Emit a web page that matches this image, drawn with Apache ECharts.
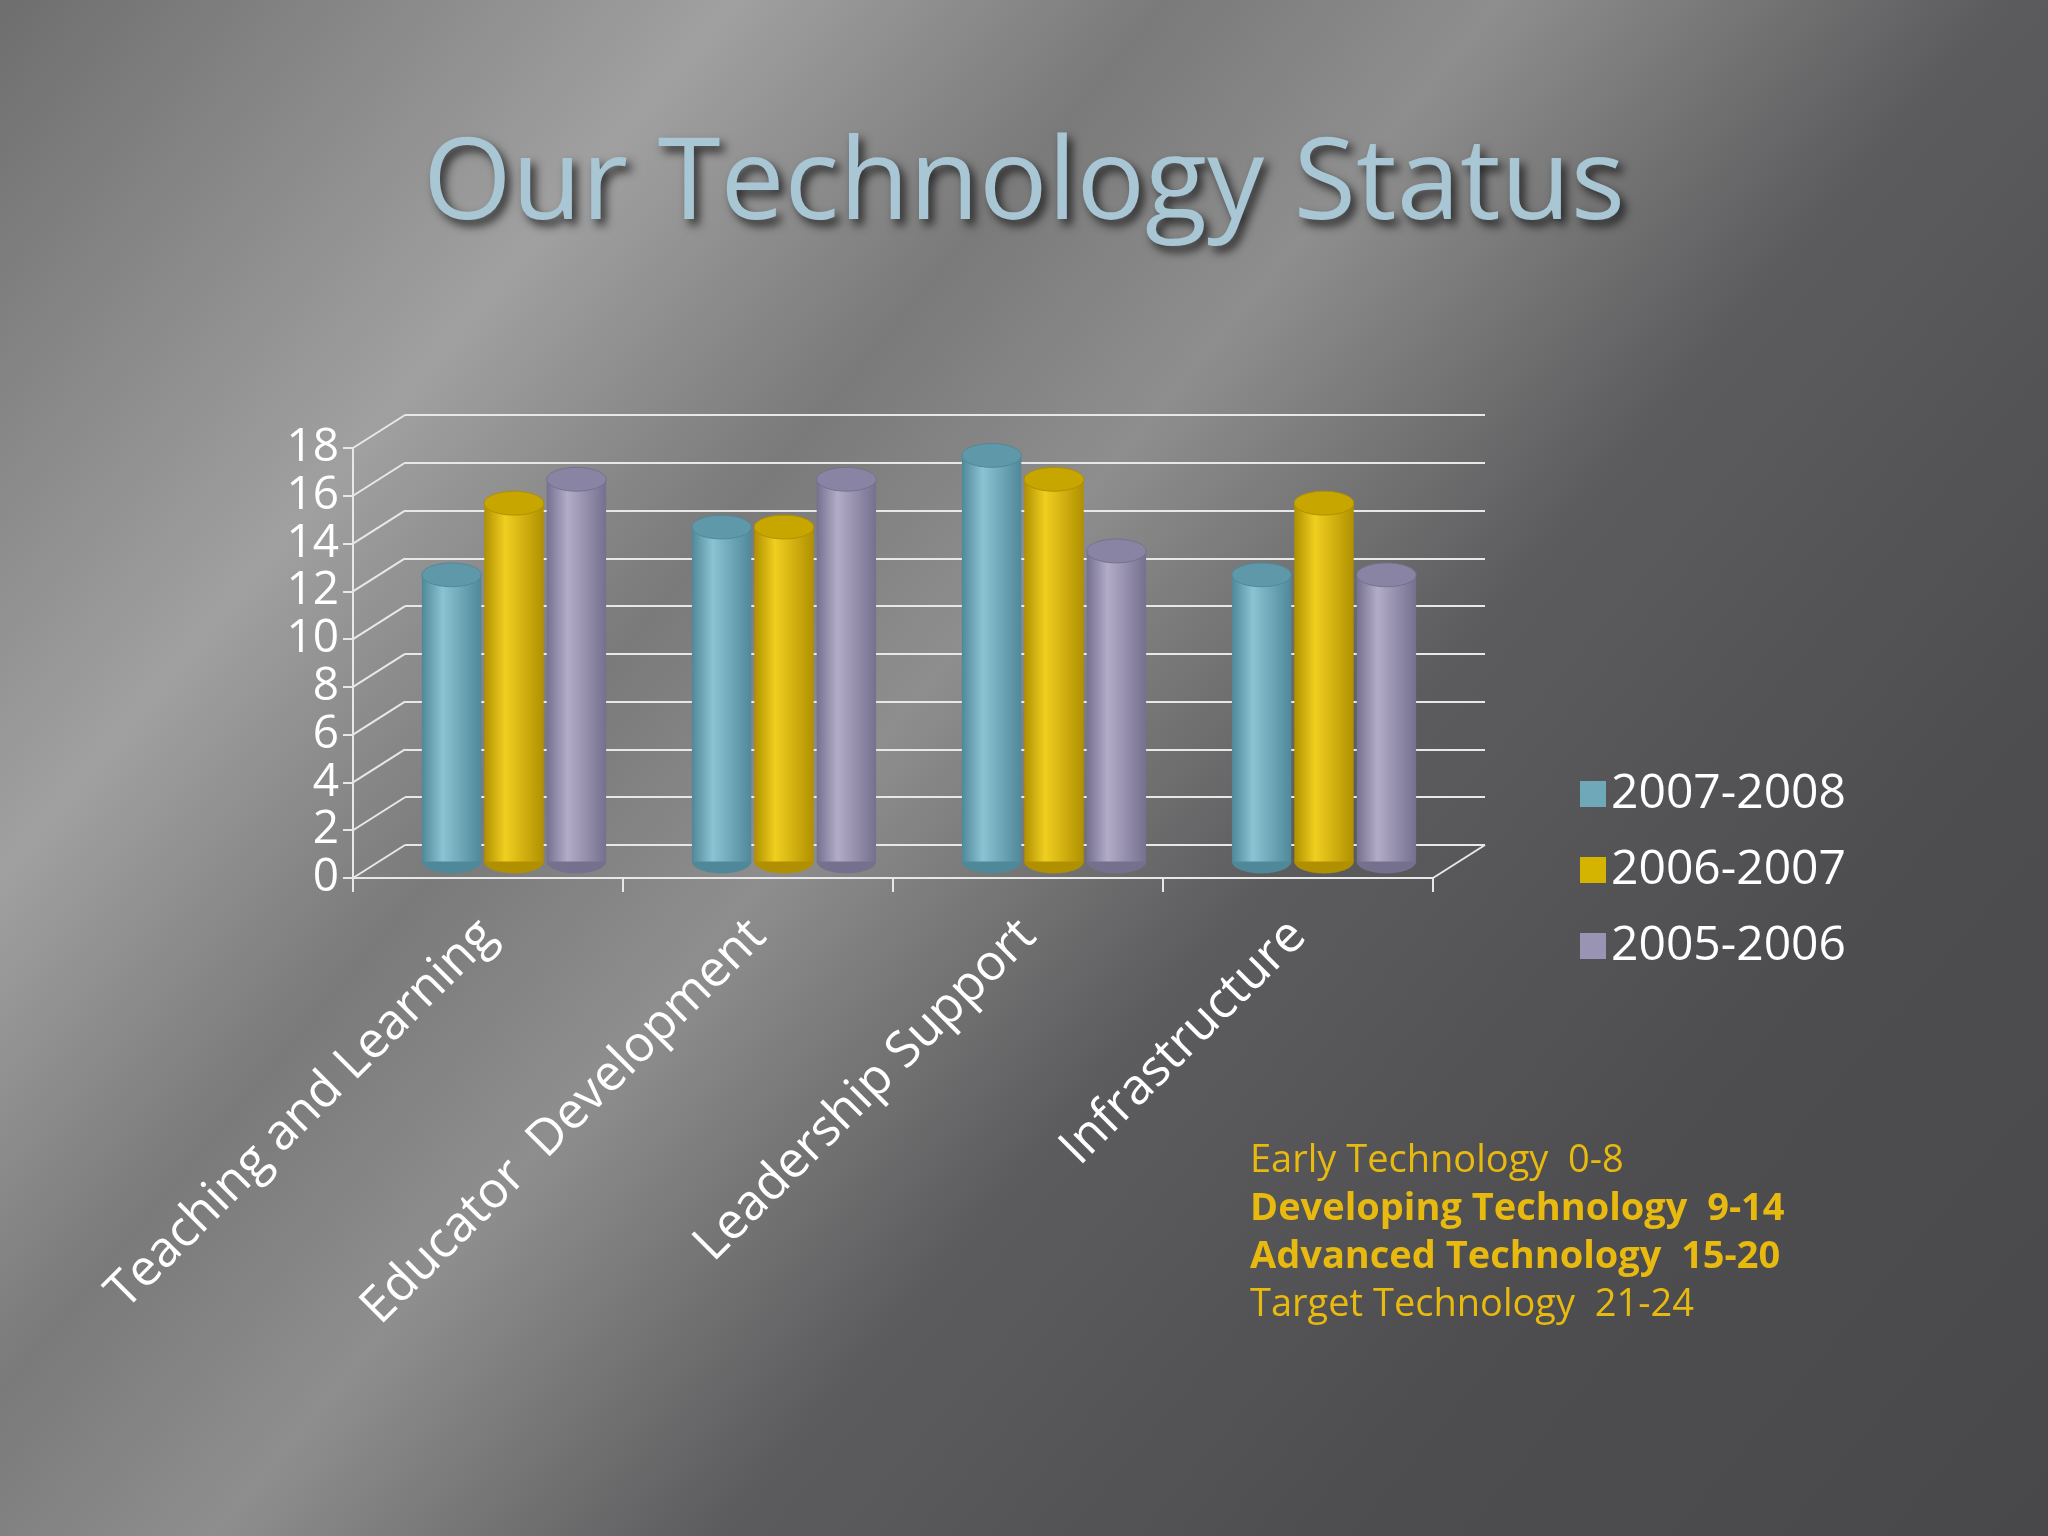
<!DOCTYPE html>
<html><head><meta charset="utf-8">
<script src="https://cdn.jsdelivr.net/npm/echarts@6/dist/echarts.min.js"></script>
<style>
html,body{margin:0;padding:0;}
body{width:2048px;height:1536px;background:linear-gradient(130deg,#6e6e6e 0%,#a0a0a0 22%,#7a7a7a 35%,#8e8e8e 45%,#5c5c5e 60%,#4e4e50 78%,#48484a 100%);}
#main{width:2048px;height:1536px;}
</style></head>
<body><div id="main"></div>
<script>
var chartDom = document.getElementById('main');
var myChart = echarts.init(chartDom, null, { renderer: 'canvas' });

var categories = ['Teaching and Learning', 'Educator  Development', 'Leadership Support', 'Infrastructure'];
var seriesNames = ['2007-2008', '2006-2007', '2005-2006'];
var values2007 = [12, 14, 17, 12];
var values2006 = [15, 14, 16, 15];
var values2005 = [16, 16, 13, 12];
var yTicks = [0, 2, 4, 6, 8, 10, 12, 14, 16, 18];
var notes = ['Early Technology  0-8', 'Developing Technology  9-14', 'Advanced Technology  15-20', 'Target Technology  21-24'];

var colors = [['#4f8899', '#8cc3d2', '#5f98a8'], ['#b09000', '#f0cf20', '#c8a600'], ['#75708e', '#b2acc8', '#8a84a4']];
var mainColors = ['#6fa8b8', '#d4b400', '#9a94b4'];
var allValues = [values2007, values2006, values2005];

var gridW = 1080, gridH = 430;
var front = { left: 353, top: 448 };
var dx = 52, dy = -33;

function cylinder(si) {
    return function (params, api) {
        var c = api.value(0), v = api.value(1);
        var band = api.size([1, 0])[0];
        var bw = band * 0.22;
        var top = api.coord([c, v]);
        var bot = api.coord([c, 0]);
        var cx = top[0] + (si - 1) * (bw + 3);
        var ry = bw * 0.2;
        var grad = new echarts.graphic.LinearGradient(0, 0, 1, 0, [
            { offset: 0, color: colors[si][0] },
            { offset: 0.35, color: colors[si][1] },
            { offset: 1, color: colors[si][0] }
        ]);
        return {
            type: 'group',
            children: [
                { type: 'ellipse', shape: { cx: cx, cy: bot[1], rx: bw / 2, ry: ry }, style: { fill: colors[si][0] } },
                { type: 'rect', shape: { x: cx - bw / 2, y: top[1], width: bw, height: bot[1] - top[1] }, style: { fill: grad } },
                { type: 'ellipse', shape: { cx: cx, cy: top[1], rx: bw / 2, ry: ry }, style: { fill: colors[si][2], stroke: colors[si][0], lineWidth: 1 } }
            ]
        };
    };
}

var series = [];
for (var i = 0; i < 3; i++) {
    series.push({
        type: 'custom', name: seriesNames[i], xAxisIndex: 1, yAxisIndex: 1,
        itemStyle: { color: mainColors[i] },
        renderItem: cylinder(i),
        data: allValues[i].map(function (v, k) { return [k, v]; })
    });
}
// diagonal depth lines from the front axis to the back wall
series.push({
    type: 'custom', xAxisIndex: 2, yAxisIndex: 2, silent: true, z: 1,
    renderItem: function (params, api) {
        var p = api.coord([0, api.value(0)]);
        return { type: 'line', shape: { x1: p[0], y1: p[1], x2: p[0] + dx, y2: p[1] + dy }, style: { stroke: '#e8e8e8', lineWidth: 2 } };
    },
    data: yTicks.map(function (t) { return [t]; })
});
series.push({
    type: 'custom', xAxisIndex: 2, yAxisIndex: 2, silent: true, z: 1,
    renderItem: function (params, api) {
        var p = api.coord([4, 0]);
        return { type: 'line', shape: { x1: p[0], y1: p[1], x2: p[0] + dx, y2: p[1] + dy }, style: { stroke: '#e8e8e8', lineWidth: 2 } };
    },
    data: [[0]]
});

var yBase = { type: 'value', min: 0, max: 18, interval: 2 };
var option = {
    title: {
        text: 'Our Technology Status', left: 'center', top: 125,
        textStyle: { color: '#a8c6d4', fontSize: 114, fontWeight: 'normal', fontFamily: 'Open Sans',
            textShadowColor: 'rgba(0,0,0,0.7)', textShadowBlur: 10, textShadowOffsetX: 5, textShadowOffsetY: 6 }
    },
    legend: {
        orient: 'vertical', left: 1575, top: 765, itemGap: 28, itemWidth: 26, itemHeight: 26, icon: 'rect',
        data: seriesNames,
        textStyle: { color: '#ffffff', fontSize: 48, fontFamily: 'Open Sans' }
    },
    grid: [
        { left: front.left + dx, top: front.top + dy, width: gridW, height: gridH },
        { left: front.left + dx / 2, top: front.top + dy / 2, width: gridW, height: gridH },
        { left: front.left, top: front.top, width: gridW, height: gridH }
    ],
    xAxis: [
        { type: 'category', data: categories, gridIndex: 0, show: false },
        { type: 'category', data: categories, gridIndex: 1, show: false },
        { type: 'value', min: 0, max: 4, gridIndex: 2, show: false },
        { type: 'category', data: categories, gridIndex: 2, position: 'bottom',
            axisLine: { show: true, lineStyle: { color: '#e8e8e8', width: 2 } },
            axisTick: { show: true, length: 14, lineStyle: { color: '#e8e8e8', width: 2 } },
            axisLabel: { color: '#ffffff', fontSize: 50, fontFamily: 'Open Sans', rotate: 45, margin: 50 } }
    ],
    yAxis: [
        Object.assign({ gridIndex: 0, axisLabel: { show: false }, axisLine: { show: false }, axisTick: { show: false },
            splitLine: { lineStyle: { color: '#e8e8e8', width: 2 } } }, yBase),
        Object.assign({ gridIndex: 1, show: false }, yBase),
        Object.assign({ gridIndex: 2, splitLine: { show: false },
            axisLine: { show: true, lineStyle: { color: '#e8e8e8', width: 2 } },
            axisTick: { show: true, length: 10, lineStyle: { color: '#e8e8e8', width: 2 } },
            axisLabel: { color: '#ffffff', fontSize: 46, fontFamily: 'Open Sans', margin: 14 } }, yBase)
    ],
    series: series.concat([{
        type: 'bar', xAxisIndex: 3, yAxisIndex: 2, data: [], silent: true
    }]),
    graphic: notes.map(function (t, i) {
        return { type: 'text', left: 1250, top: 1142 + i * 48,
            style: { text: t, fill: '#e8b90e', fontSize: 38, fontFamily: 'Open Sans', fontWeight: (i === 1 || i === 2) ? 'bold' : 'normal' } };
    })
};

myChart.setOption(option);
</script></body></html>
